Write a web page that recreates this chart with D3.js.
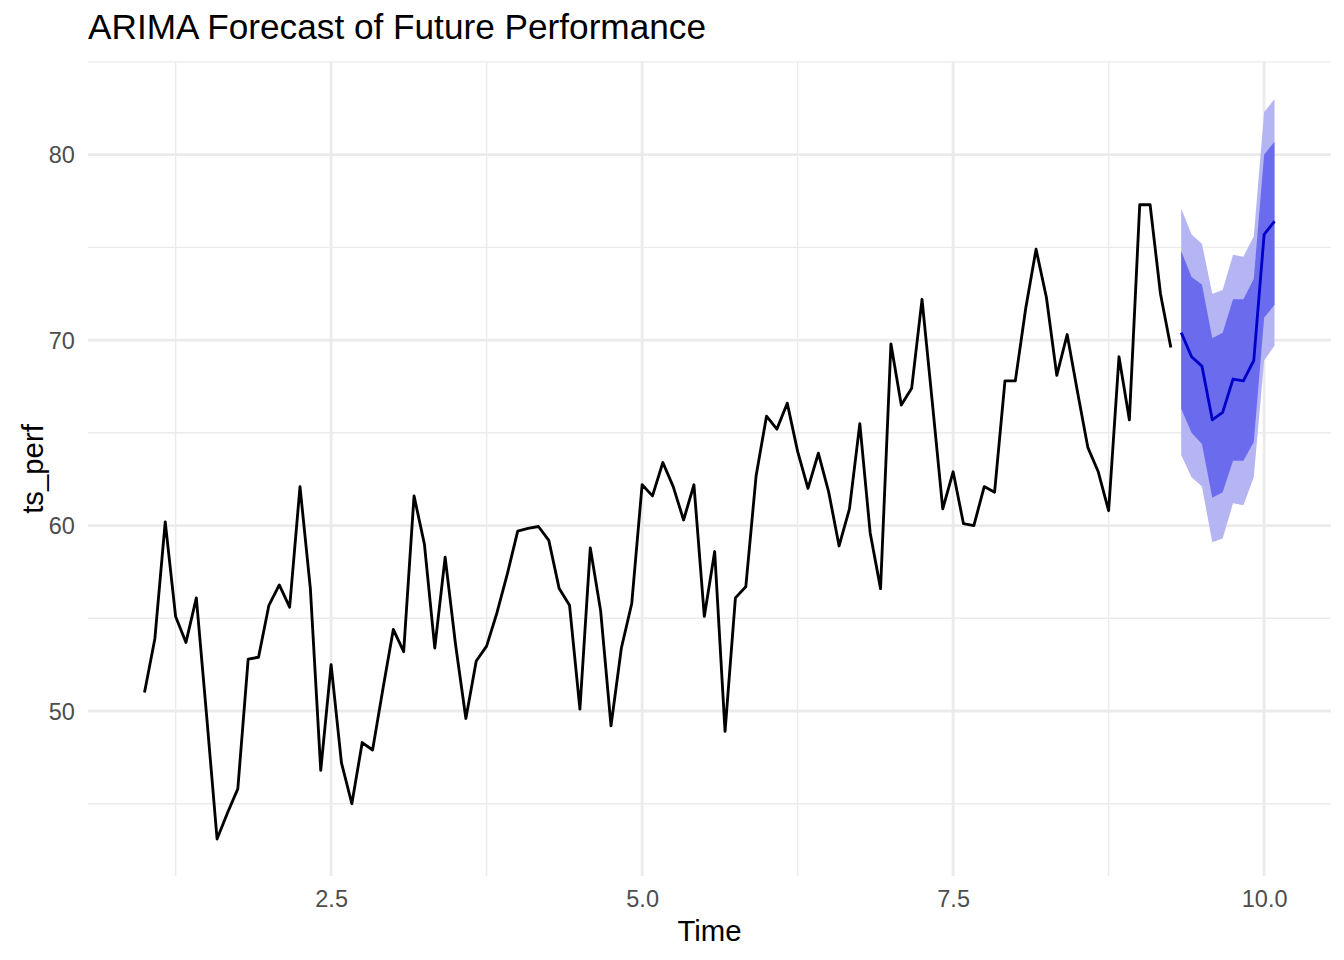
<!DOCTYPE html>
<html>
<head>
<meta charset="utf-8">
<script src="https://cdn.jsdelivr.net/npm/d3@7"></script>
<style>
  html, body { margin: 0; padding: 0; background: #ffffff; }
  svg { display: block; font-family: "Liberation Sans", Arial, Helvetica, sans-serif; }
</style>
</head>
<body>
<svg id="chart" width="1344" height="960"></svg>
<script>
// ---- Data (monthly series, start = 1, frequency = 12) ----
const seriesStart = 1;
const seriesFrequency = 12;
const perfValues = [
  51.0, 53.9, 60.2, 55.1, 53.7, 56.1, 49.7, 43.1, 44.5, 45.8,
  52.8, 52.9, 55.7, 56.8, 55.6, 62.1, 56.6, 46.8, 52.5, 47.2,
  45.0, 48.3, 47.9, 51.2, 54.4, 53.2, 61.6, 59.0, 53.4, 58.3,
  53.6, 49.6, 52.7, 53.5, 55.3, 57.4, 59.7, 59.85, 59.95, 59.2,
  56.6, 55.7, 50.1, 58.8, 55.4, 49.2, 53.4, 55.8, 62.2, 61.6,
  63.4, 62.1, 60.3, 62.2, 55.1, 58.6, 48.9, 56.1, 56.7, 62.7,
  65.9, 65.2, 66.6, 64.0, 62.0, 63.9, 61.8, 58.9, 60.9, 65.5,
  59.6, 56.6, 69.8, 66.5, 67.4, 72.2, 66.6, 60.9, 62.9, 60.1,
  60.0, 62.1, 61.8, 67.8, 67.8, 71.7, 74.9, 72.3, 68.1, 70.3,
  67.2, 64.2, 62.9, 60.8, 69.1, 65.7, 77.3, 77.3, 72.5, 69.6
];
const forecastMean = [70.4, 69.1, 68.6, 65.7, 66.1, 67.9, 67.8, 68.9, 75.7, 76.4];
const forecastLo80 = [66.3, 65.0, 64.4, 61.5, 61.8, 63.5, 63.5, 64.5, 71.2, 71.9];
const forecastHi80 = [74.8, 73.4, 73.0, 70.1, 70.4, 72.2, 72.2, 73.3, 80.0, 80.7];
const forecastLo95 = [63.8, 62.6, 62.1, 59.1, 59.3, 61.2, 61.1, 62.6, 68.9, 69.7];
const forecastHi95 = [77.1, 75.7, 75.2, 72.5, 72.7, 74.6, 74.5, 75.6, 82.3, 83.0];

const xTickValues = [2.5, 5.0, 7.5, 10.0];
const xTickLabels = ["2.5", "5.0", "7.5", "10.0"];
const xMinorValues = [1.25, 3.75, 6.25, 8.75];
const yTickValues = [50, 60, 70, 80];
const yTickLabels = ["50", "60", "70", "80"];
const yMinorValues = [45, 55, 65, 75, 85];

const titleText = "ARIMA Forecast of Future Performance";
const xTitle = "Time";
const yTitle = "ts_perf";

// ---- Build records ----
const history = perfValues.map((v, i) => ({ t: seriesStart + i / seriesFrequency, v }));
const fcStart = seriesStart + perfValues.length / seriesFrequency;
const forecast = forecastMean.map((m, i) => ({
  t: fcStart + i / seriesFrequency,
  mean: m, lo80: forecastLo80[i], hi80: forecastHi80[i], lo95: forecastLo95[i], hi95: forecastHi95[i]
}));

// ---- Layout ----
const panel = { left: 88, right: 1331, top: 62, bottom: 876 };
const labelGap = 13.2;

const allT = history.map(d => d.t).concat(forecast.map(d => d.t));
const tMin = d3.min(allT), tMax = d3.max(allT);
const tPad = (tMax - tMin) * 0.05;
const allV = perfValues.concat(forecastLo95, forecastHi95);
const vMin = d3.min(allV), vMax = d3.max(allV);
const vPad = (vMax - vMin) * 0.05;

const x = d3.scaleLinear().domain([tMin - tPad, tMax + tPad]).range([panel.left, panel.right]);
const y = d3.scaleLinear().domain([vMin - vPad, vMax + vPad]).range([panel.bottom, panel.top]);

const svg = d3.select("#chart");

// Grid
const grid = svg.append("g");
grid.selectAll("line.ymin").data(yMinorValues.filter(v => y(v) >= panel.top - 1 && y(v) <= panel.bottom)).join("line")
  .attr("x1", panel.left).attr("x2", panel.right)
  .attr("y1", d => y(d)).attr("y2", d => y(d))
  .attr("stroke", "#ebebeb").attr("stroke-width", 1.42);
grid.selectAll("line.xmin").data(xMinorValues).join("line")
  .attr("y1", panel.top).attr("y2", panel.bottom)
  .attr("x1", d => x(d)).attr("x2", d => x(d))
  .attr("stroke", "#ebebeb").attr("stroke-width", 1.42);
grid.selectAll("line.ymaj").data(yTickValues).join("line")
  .attr("x1", panel.left).attr("x2", panel.right)
  .attr("y1", d => y(d)).attr("y2", d => y(d))
  .attr("stroke", "#ebebeb").attr("stroke-width", 2.84);
grid.selectAll("line.xmaj").data(xTickValues).join("line")
  .attr("y1", panel.top).attr("y2", panel.bottom)
  .attr("x1", d => x(d)).attr("x2", d => x(d))
  .attr("stroke", "#ebebeb").attr("stroke-width", 2.84);

// Ribbons
const area95 = d3.area().x(d => x(d.t)).y0(d => y(d.lo95)).y1(d => y(d.hi95));
const area80 = d3.area().x(d => x(d.t)).y0(d => y(d.lo80)).y1(d => y(d.hi80));
svg.append("path").datum(forecast).attr("d", area95).attr("fill", "#b5b5f4");
svg.append("path").datum(forecast).attr("d", area80).attr("fill", "#6b6bee");

// Lines
const lineH = d3.line().x(d => x(d.t)).y(d => y(d.v));
svg.append("path").datum(history).attr("d", lineH)
  .attr("fill", "none").attr("stroke", "#000000").attr("stroke-width", 2.84).attr("stroke-linejoin", "round");
const lineF = d3.line().x(d => x(d.t)).y(d => y(d.mean));
svg.append("path").datum(forecast).attr("d", lineF)
  .attr("fill", "none").attr("stroke", "#0000c8").attr("stroke-width", 2.84).attr("stroke-linejoin", "round");

// Axes (text only, like theme_minimal)
const xAxis = d3.axisBottom(x).tickValues(xTickValues).tickFormat((d, i) => xTickLabels[i]).tickSize(0).tickPadding(0);
const gx = svg.append("g").attr("transform", `translate(0,${panel.bottom + labelGap})`).call(xAxis);
gx.select(".domain").remove();
gx.selectAll("text").attr("fill", "#4d4d4d").attr("font-size", 23.5)
  .attr("font-family", "Liberation Sans, Arial, sans-serif").attr("dy", "0.75em");

const yAxis = d3.axisLeft(y).tickValues(yTickValues).tickFormat((d, i) => yTickLabels[i]).tickSize(0).tickPadding(0);
const gy = svg.append("g").attr("transform", `translate(${panel.left - labelGap},0)`).call(yAxis);
gy.select(".domain").remove();
gy.selectAll("text").attr("fill", "#4d4d4d").attr("font-size", 23.5)
  .attr("font-family", "Liberation Sans, Arial, sans-serif").attr("dy", "0.35em");

// Titles
svg.append("text").attr("x", 88).attr("y", 39).attr("font-size", 35.2).attr("fill", "#000")
  .text(titleText);
svg.append("text").attr("x", (panel.left + panel.right) / 2).attr("y", 941).attr("text-anchor", "middle")
  .attr("font-size", 29.3).attr("fill", "#000").text(xTitle);
svg.append("text").attr("transform", `translate(43,${(panel.top + panel.bottom) / 2}) rotate(-90)`)
  .attr("text-anchor", "middle").attr("font-size", 29.3).attr("fill", "#000").text(yTitle);
</script>
</body>
</html>
